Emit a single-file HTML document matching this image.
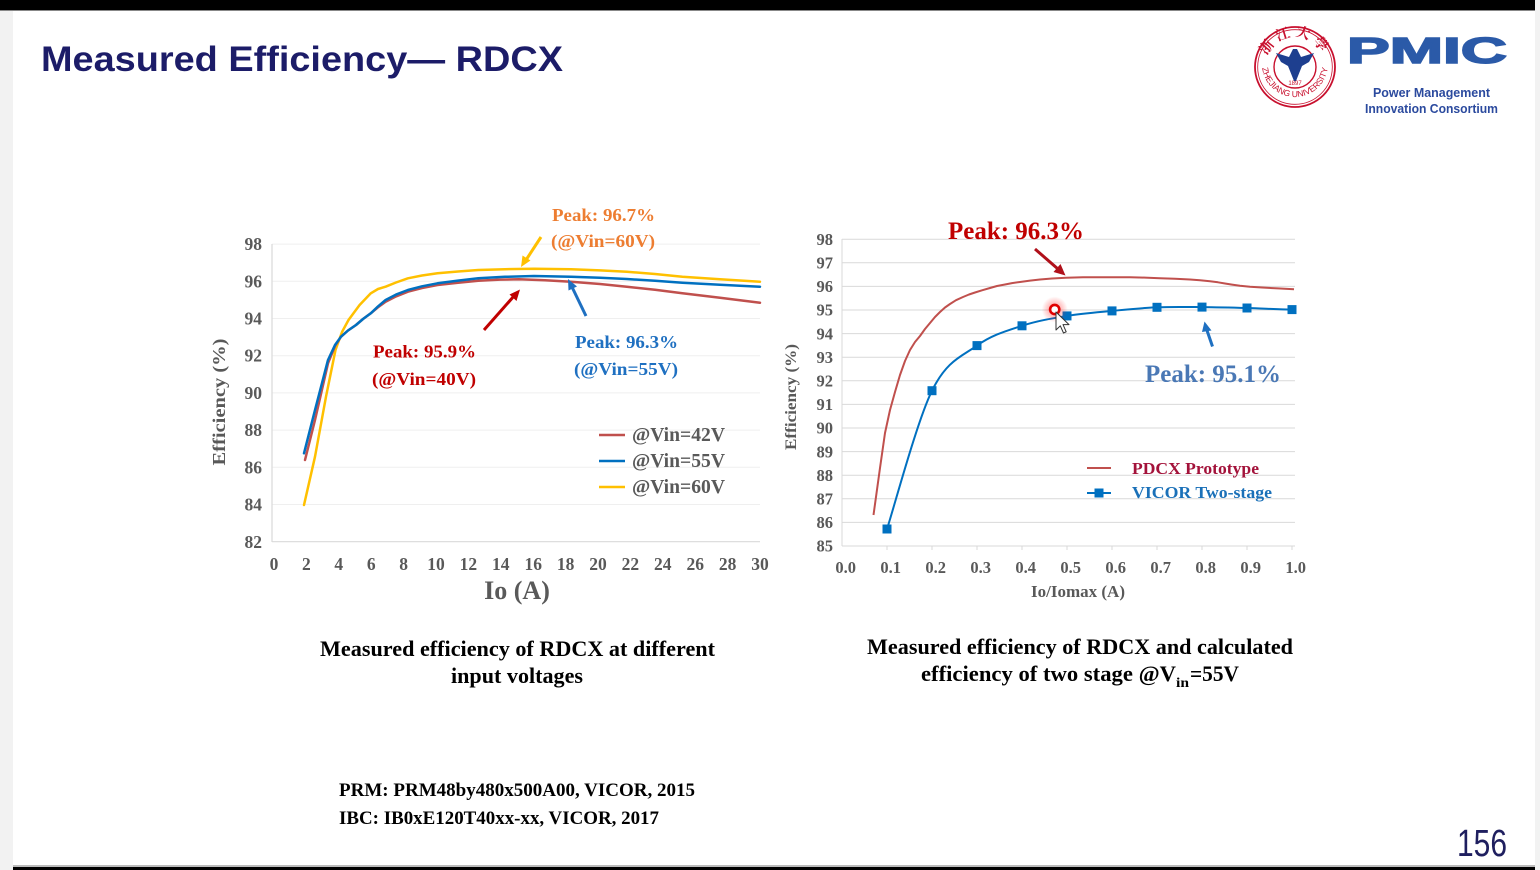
<!DOCTYPE html>
<html><head><meta charset="utf-8"><style>
html,body{margin:0;padding:0;background:#fff;}
svg{display:block;}
</style></head><body>
<svg width="1540" height="870" viewBox="0 0 1540 870" xmlns="http://www.w3.org/2000/svg">
<defs>
<radialGradient id="glow"><stop offset="0" stop-color="#ff2020" stop-opacity="0.55"/><stop offset="1" stop-color="#ff2020" stop-opacity="0"/></radialGradient>
<path id="sealTop" d="M1265,67 A30,30 0 0 1 1325,67"/>
<path id="sealBot" d="M1262,64 A33,33 0 0 0 1328,64"/>
</defs>
<rect x="0" y="0" width="1540" height="870" fill="#fff"/>
<!-- frame -->
<rect x="0" y="0" width="13" height="870" fill="#f2f2f2"/>
<rect x="1535" y="0" width="5" height="870" fill="#f2f2f2"/>
<rect x="0" y="0" width="1535" height="10" fill="#000"/>
<rect x="0" y="10" width="1535" height="1" fill="#888"/>
<rect x="13" y="865" width="1522" height="2" fill="#bbb"/>
<rect x="13" y="867" width="1522" height="3" fill="#000"/>

<!-- title -->
<text x="41" y="71" font-family="Liberation Sans, Arial, sans-serif" font-weight="bold" font-size="35" fill="#1c1c68" textLength="522" lengthAdjust="spacingAndGlyphs">Measured Efficiency— RDCX</text>

<!-- logo seal -->
<circle cx="1295" cy="67" r="40" fill="#fff" stroke="#c8102e" stroke-width="1.8"/>
<circle cx="1295" cy="67" r="37.3" fill="none" stroke="#c8102e" stroke-width="0.8"/>
<circle cx="1295" cy="67" r="21" fill="none" stroke="#c8102e" stroke-width="1.4"/>
<text font-family="Noto Serif CJK SC, Noto Sans CJK SC, serif" font-size="14" fill="#c8102e" font-weight="bold"><textPath href="#sealTop" startOffset="50%" text-anchor="middle" letter-spacing="4">浙江大學</textPath></text>
<text font-family="Liberation Sans, Arial, sans-serif" font-size="8.5" fill="#c8102e"><textPath href="#sealBot" startOffset="50%" text-anchor="middle">ZHEJIANG UNIVERSITY</textPath></text>
<text x="1295" y="85" text-anchor="middle" font-family="Liberation Sans, Arial, sans-serif" font-size="6" fill="#c8102e">1897</text>
<path d="M1276,53 L1289,57 L1293,49 L1297,49 L1301,57 L1314,53 L1309,62 L1302,66 L1296,81 L1294,81 L1288,66 L1281,62 Z" fill="#1e3f8f"/>
<!-- PMIC -->
<text x="1347" y="63" font-family="Liberation Sans, Arial, sans-serif" font-weight="bold" font-size="36" fill="#2b5aa8" stroke="#2b5aa8" stroke-width="1.5" textLength="160" lengthAdjust="spacingAndGlyphs">PMIC</text>
<text x="1373" y="97" font-family="Liberation Sans Narrow, Liberation Sans, Arial, sans-serif" font-weight="bold" font-size="13" fill="#2b4a9e" textLength="117" lengthAdjust="spacingAndGlyphs">Power Management</text>
<text x="1365" y="113" font-family="Liberation Sans Narrow, Liberation Sans, Arial, sans-serif" font-weight="bold" font-size="13" fill="#2b4a9e" textLength="133" lengthAdjust="spacingAndGlyphs">Innovation Consortium</text>

<!-- ================= LEFT CHART ================= -->
<g stroke="#efefef" stroke-width="1">
<line x1="272" y1="504.5" x2="760" y2="504.5"/>
<line x1="272" y1="467.3" x2="760" y2="467.3"/>
<line x1="272" y1="430.1" x2="760" y2="430.1"/>
<line x1="272" y1="392.9" x2="760" y2="392.9"/>
<line x1="272" y1="355.7" x2="760" y2="355.7"/>
<line x1="272" y1="318.5" x2="760" y2="318.5"/>
<line x1="272" y1="281.3" x2="760" y2="281.3"/>
<line x1="272" y1="244.1" x2="760" y2="244.1"/>
</g>
<line x1="272" y1="244" x2="272" y2="542" stroke="#d9d9d9" stroke-width="1.2"/>
<line x1="272" y1="541.7" x2="760" y2="541.7" stroke="#d9d9d9" stroke-width="1.2"/>
<g font-family="Liberation Serif, Times New Roman, serif" font-weight="bold" font-size="17.5" fill="#595959" text-anchor="end">
<text x="262" y="548">82</text>
<text x="262" y="510.5">84</text>
<text x="262" y="473.3">86</text>
<text x="262" y="436.1">88</text>
<text x="262" y="398.9">90</text>
<text x="262" y="361.7">92</text>
<text x="262" y="324.5">94</text>
<text x="262" y="287.3">96</text>
<text x="262" y="250.1">98</text>
</g>
<g font-family="Liberation Serif, Times New Roman, serif" font-weight="bold" font-size="17.5" fill="#595959" text-anchor="middle">
<text x="274" y="570">0</text>
<text x="306.4" y="570">2</text>
<text x="338.8" y="570">4</text>
<text x="371.2" y="570">6</text>
<text x="403.6" y="570">8</text>
<text x="436" y="570">10</text>
<text x="468.4" y="570">12</text>
<text x="500.8" y="570">14</text>
<text x="533.2" y="570">16</text>
<text x="565.6" y="570">18</text>
<text x="598" y="570">20</text>
<text x="630.4" y="570">22</text>
<text x="662.8" y="570">24</text>
<text x="695.2" y="570">26</text>
<text x="727.6" y="570">28</text>
<text x="760" y="570">30</text>
</g>
<text x="517" y="599" text-anchor="middle" font-family="Liberation Serif, Times New Roman, serif" font-weight="bold" font-size="26" fill="#595959">Io (A)</text>
<text transform="translate(225,402) rotate(-90)" text-anchor="middle" font-family="Liberation Serif, Times New Roman, serif" font-weight="bold" font-size="18" fill="#595959" textLength="127" lengthAdjust="spacingAndGlyphs">Efficiency (%)</text>

<g fill="none" stroke-width="2.5" stroke-linejoin="round" stroke-linecap="round">
<polyline stroke="#ffc000" points="304,505 315,456.7 326,396.7 335.5,350 342,332 348.5,320 359.6,305 370.8,293.3 378,289 385.6,286.7 396,282.5 407.9,278.3 422,275.5 437.5,273.3 458,271.5 478.3,270 505,269.2 534,268.7 571,269.3 600,270.4 626.8,271.7 655,274 682.4,276.7 720,279.2 760,281.7"/>
<polyline stroke="#c0504d" points="305,460 315,420 328,363.3 335,346 341,336.7 348,330.5 356,325 363,319 370.8,313.3 378,307.3 385.6,301.7 396,296.4 407.9,291.7 422,288 437.5,285 458,282.7 478.3,280.7 500,279.6 519,279.3 545,280.2 571,281.7 600,284 626.8,286.7 655,289.8 682.4,293.3 720,297.8 760,302.7"/>
<polyline stroke="#0070c0" points="304,453.3 315,410 328,360 335,345 341,336.7 348,330.5 356,325 363,319 370.8,313.3 378,306.4 385.6,300 396,294.6 407.9,290 422,286.3 437.5,283.3 458,280.6 478.3,278.3 505,276.8 534,276 571,276.7 600,277.8 626.8,279 655,280.8 682.4,282.7 720,284.7 760,286.7"/>
</g>

<!-- left legend -->
<g stroke-width="2.5">
<line x1="599" y1="435" x2="625" y2="435" stroke="#c0504d"/>
<line x1="599" y1="461" x2="625" y2="461" stroke="#0070c0"/>
<line x1="599" y1="487" x2="625" y2="487" stroke="#ffc000"/>
</g>
<g font-family="Liberation Serif, Times New Roman, serif" font-weight="bold" font-size="19.5" fill="#595959">
<text x="632" y="441" textLength="93" lengthAdjust="spacingAndGlyphs">@Vin=42V</text>
<text x="632" y="467" textLength="93" lengthAdjust="spacingAndGlyphs">@Vin=55V</text>
<text x="632" y="493" textLength="93" lengthAdjust="spacingAndGlyphs">@Vin=60V</text>
</g>

<!-- left annotations -->
<g font-family="Liberation Serif, Times New Roman, serif" font-weight="bold" font-size="18">
<text x="552" y="221" fill="#ed7d31" textLength="103" lengthAdjust="spacingAndGlyphs">Peak: 96.7%</text>
<text x="551" y="247" fill="#ed7d31" textLength="104" lengthAdjust="spacingAndGlyphs">(@Vin=60V)</text>
<text x="373" y="357.5" fill="#c00000" textLength="103" lengthAdjust="spacingAndGlyphs">Peak: 95.9%</text>
<text x="372" y="385" fill="#c00000" textLength="104" lengthAdjust="spacingAndGlyphs">(@Vin=40V)</text>
<text x="575" y="348" fill="#1f70c1" textLength="103" lengthAdjust="spacingAndGlyphs">Peak: 96.3%</text>
<text x="574" y="375" fill="#1f70c1" textLength="104" lengthAdjust="spacingAndGlyphs">(@Vin=55V)</text>
</g>
<!-- arrows left -->
<line x1="541" y1="237" x2="526" y2="260" stroke="#ffc000" stroke-width="3"/>
<polygon points="521,267 522.5,255.5 530.5,260.5" fill="#ffc000"/>
<line x1="484" y1="330" x2="514" y2="296" stroke="#c00000" stroke-width="3"/>
<polygon points="520,289.5 516.5,301 509.5,294.5" fill="#c00000"/>
<line x1="586" y1="316" x2="572" y2="287" stroke="#1f70c1" stroke-width="3"/>
<polygon points="568,279 577,286.5 568.5,290.5" fill="#1f70c1"/>

<!-- ================= RIGHT CHART ================= -->
<g stroke="#d9d9d9" stroke-width="1">
<line x1="842" y1="522.4" x2="1295" y2="522.4"/>
<line x1="842" y1="498.8" x2="1295" y2="498.8"/>
<line x1="842" y1="475.2" x2="1295" y2="475.2"/>
<line x1="842" y1="451.6" x2="1295" y2="451.6"/>
<line x1="842" y1="428" x2="1295" y2="428"/>
<line x1="842" y1="404.4" x2="1295" y2="404.4"/>
<line x1="842" y1="380.8" x2="1295" y2="380.8"/>
<line x1="842" y1="357.2" x2="1295" y2="357.2"/>
<line x1="842" y1="333.6" x2="1295" y2="333.6"/>
<line x1="842" y1="310" x2="1295" y2="310"/>
<line x1="842" y1="286.4" x2="1295" y2="286.4"/>
<line x1="842" y1="262.8" x2="1295" y2="262.8"/>
<line x1="842" y1="239.2" x2="1295" y2="239.2"/>
<line x1="842" y1="546" x2="1295" y2="546"/>
<line x1="842" y1="239" x2="842" y2="546"/>
</g>
<g stroke="#d9d9d9" stroke-width="1">
<line x1="887" y1="546" x2="887" y2="550"/><line x1="932" y1="546" x2="932" y2="550"/><line x1="977" y1="546" x2="977" y2="550"/><line x1="1022" y1="546" x2="1022" y2="550"/><line x1="1067" y1="546" x2="1067" y2="550"/><line x1="1112" y1="546" x2="1112" y2="550"/><line x1="1157" y1="546" x2="1157" y2="550"/><line x1="1202" y1="546" x2="1202" y2="550"/><line x1="1247" y1="546" x2="1247" y2="550"/><line x1="1292" y1="546" x2="1292" y2="550"/>
</g>
<g font-family="Liberation Serif, Times New Roman, serif" font-weight="bold" font-size="16.5" fill="#595959" text-anchor="end">
<text x="833" y="551.7">85</text>
<text x="833" y="528.1">86</text>
<text x="833" y="504.5">87</text>
<text x="833" y="480.9">88</text>
<text x="833" y="457.3">89</text>
<text x="833" y="433.7">90</text>
<text x="833" y="410.1">91</text>
<text x="833" y="386.5">92</text>
<text x="833" y="362.9">93</text>
<text x="833" y="339.3">94</text>
<text x="833" y="315.7">95</text>
<text x="833" y="292.1">96</text>
<text x="833" y="268.5">97</text>
<text x="833" y="244.9">98</text>
</g>
<g font-family="Liberation Serif, Times New Roman, serif" font-weight="bold" font-size="16.5" fill="#595959" text-anchor="middle">
<text x="845.7" y="573">0.0</text>
<text x="890.7" y="573">0.1</text>
<text x="935.7" y="573">0.2</text>
<text x="980.7" y="573">0.3</text>
<text x="1025.7" y="573">0.4</text>
<text x="1070.7" y="573">0.5</text>
<text x="1115.7" y="573">0.6</text>
<text x="1160.7" y="573">0.7</text>
<text x="1205.7" y="573">0.8</text>
<text x="1250.7" y="573">0.9</text>
<text x="1295.7" y="573">1.0</text>
</g>
<text x="1078" y="597" text-anchor="middle" font-family="Liberation Serif, Times New Roman, serif" font-weight="bold" font-size="16.5" fill="#595959" textLength="94" lengthAdjust="spacingAndGlyphs">Io/Iomax (A)</text>
<text transform="translate(796,397) rotate(-90)" text-anchor="middle" font-family="Liberation Serif, Times New Roman, serif" font-weight="bold" font-size="15.5" fill="#595959" textLength="106" lengthAdjust="spacingAndGlyphs">Efficiency (%)</text>

<polyline fill="none" stroke="#c0504d" stroke-width="2" stroke-linejoin="round" points="873.5,515 880,468 885,433 890,410 895,392 900,375 905,361 910,350 915,342 920,336 925,329 930,323 935,317 940,312 945,307.5 950,304 956,300.2 963,297 969,294.5 975,292.5 982,290.3 990,288 997,286 1005,284.5 1012,283.1 1020,282 1030,280.6 1040,279.5 1052,278.5 1066,277.7 1083,277.3 1100,277.2 1115,277.2 1130,277.3 1145,277.6 1160,278.2 1175,278.8 1190,279.5 1200,280.3 1210,281.3 1218,282.3 1225,283.5 1232,284.6 1240,285.7 1250,286.7 1262,287.5 1278,288.4 1294,289.3"/>
<path fill="none" stroke="#0070c0" stroke-width="2" d="M887,529 C894.5,505.95 917,421.27 932,390.7 C947,360.13 962,356.42 977,345.6 C992,334.78 1007,330.75 1022,325.8 C1037,320.85 1052,318.38 1067,315.9 C1082,313.42 1097,312.33 1112,310.9 C1127,309.47 1142,307.93 1157,307.3 C1172,306.67 1187,306.98 1202,307.1 C1217,307.22 1232,307.58 1247,308 C1262,308.42 1277,309.33 1292,309.6"/>
<g fill="#0070c0">
<rect x="882.5" y="524.5" width="9" height="9"/>
<rect x="927.5" y="386.2" width="9" height="9"/>
<rect x="972.5" y="341.1" width="9" height="9"/>
<rect x="1017.5" y="321.3" width="9" height="9"/>
<rect x="1062.5" y="311.4" width="9" height="9"/>
<rect x="1107.5" y="306.4" width="9" height="9"/>
<rect x="1152.5" y="302.8" width="9" height="9"/>
<rect x="1197.5" y="302.6" width="9" height="9"/>
<rect x="1242.5" y="303.5" width="9" height="9"/>
<rect x="1287.5" y="305.1" width="9" height="9"/>
</g>

<!-- right legend -->
<line x1="1087" y1="468" x2="1111" y2="468" stroke="#c0504d" stroke-width="2"/>
<line x1="1087" y1="493" x2="1111" y2="493" stroke="#0070c0" stroke-width="2"/>
<rect x="1094.5" y="488.5" width="9" height="9" fill="#0070c0"/>
<g font-family="Liberation Serif, Times New Roman, serif" font-weight="bold" font-size="17">
<text x="1132" y="474" fill="#a3123a" textLength="127" lengthAdjust="spacingAndGlyphs">PDCX Prototype</text>
<text x="1132" y="498" fill="#1a70b8" textLength="140" lengthAdjust="spacingAndGlyphs">VICOR Two-stage</text>
</g>

<!-- right annotations -->
<g font-family="Liberation Serif, Times New Roman, serif" font-weight="bold" font-size="25">
<text x="948" y="239" fill="#c00000" textLength="136" lengthAdjust="spacingAndGlyphs">Peak: 96.3%</text>
<text x="1145" y="382" fill="#4a78b5" textLength="136" lengthAdjust="spacingAndGlyphs">Peak: 95.1%</text>
</g>
<line x1="1035" y1="249" x2="1058" y2="269" stroke="#b0101a" stroke-width="3"/>
<polygon points="1065.5,275.5 1053.5,272 1060.5,264" fill="#b0101a"/>
<line x1="1212.5" y1="346.5" x2="1206.5" y2="329" stroke="#1f70c1" stroke-width="3"/>
<polygon points="1204.5,321.5 1211.5,330.5 1202,332" fill="#1f70c1"/>

<!-- highlight + cursor -->
<circle cx="1054.7" cy="309.5" r="13" fill="url(#glow)"/>
<circle cx="1054.7" cy="309.5" r="4.6" fill="#fff" stroke="#e00000" stroke-width="2.6"/>
<path d="M1056,312 L1056,330 L1060.3,325.8 L1063.5,333 L1066.2,331.8 L1063,324.6 L1069,324.6 Z" fill="#fff" stroke="#333" stroke-width="1" stroke-linejoin="round"/>

<!-- captions -->
<g font-family="Liberation Serif, Times New Roman, serif" font-weight="bold" font-size="22" fill="#000">
<text x="320" y="656" textLength="395" lengthAdjust="spacingAndGlyphs">Measured efficiency of RDCX at different</text>
<text x="517" y="683" text-anchor="middle" textLength="132" lengthAdjust="spacingAndGlyphs">input voltages</text>
<text x="867" y="654" textLength="426" lengthAdjust="spacingAndGlyphs">Measured efficiency of RDCX and calculated</text>
<text x="921" y="681" textLength="255" lengthAdjust="spacingAndGlyphs">efficiency of two stage  @V</text>
<text x="1176" y="687" font-size="14" textLength="13" lengthAdjust="spacingAndGlyphs">in</text>
<text x="1190" y="681" textLength="49" lengthAdjust="spacingAndGlyphs">=55V</text>
</g>

<!-- references -->
<g font-family="Liberation Serif, Times New Roman, serif" font-weight="bold" font-size="18.5" fill="#000">
<text x="339" y="796" textLength="356" lengthAdjust="spacingAndGlyphs">PRM: PRM48by480x500A00, VICOR, 2015</text>
<text x="339" y="824" textLength="320" lengthAdjust="spacingAndGlyphs">IBC: IB0xE120T40xx-xx, VICOR, 2017</text>
</g>

<!-- page number -->
<text x="1457" y="856" font-family="Liberation Sans Narrow, Liberation Sans, Arial, sans-serif" font-size="38" fill="#1f1f5f" textLength="50" lengthAdjust="spacingAndGlyphs">156</text>
</svg>
</body></html>
